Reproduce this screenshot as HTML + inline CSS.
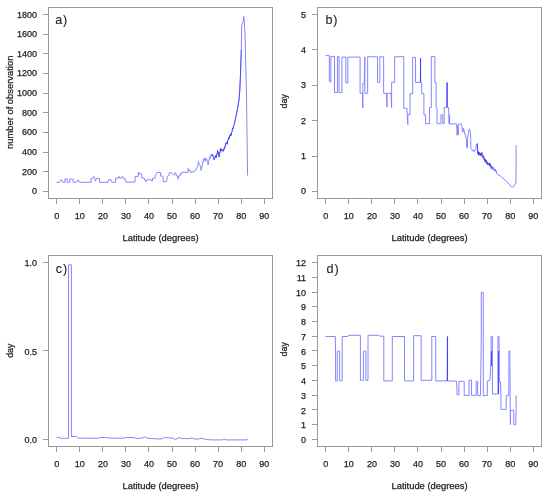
<!DOCTYPE html><html><head><meta charset="utf-8"><style>html,body{margin:0;padding:0;background:#fff;}svg{display:block;}text{font-family:'Liberation Sans', Arial, Helvetica, sans-serif;fill:#1e1e1e;stroke:#1e1e1e;stroke-width:0.25px;}</style></head><body>
<svg width="550" height="494" viewBox="0 0 550 494">
<rect width="550" height="494" fill="#fff"/>
<g><path d="M56.5 182.3 L59.5 182.3 L61.6 179.5 L62.7 182.3 L64.9 182.3 L64.9 179 L67.1 179 L67.1 182.3 L69.8 182.3 L69.8 179 L73.1 179 L73.1 182.3 L76.6 182.3 L78.3 179.8 L79.6 182.3 L91.1 182.3 L91.1 178.4 L92.7 178.4 L93.8 176.5 L94.6 178.4 L95.5 181.1 L96.3 178.4 L99.55 178.4 L99.55 182.3 L108 182.3 L108.8 179.5 L110.7 179.5 L111.8 182.3 L115.65 182.3 L115.65 178 L118.6 178 L119 176.5 L119.5 178 L122 178 L122.5 176.4 L123 178 L124.6 178 L124.8 180 L125.7 180 L126 182.3 L135.05 182 L135.05 176.4 L138.35 176.4 L138.35 172.5 L139.5 172.5 L139.8 174.1 L141.8 174.1 L141.8 178 L144.1 178 L144.4 179 L145.4 181 L146 182 L146.7 179.7 L150.9 179.7 L151.6 181 L152.45 181 L152.45 178.4 L155.05 178.4 L155.05 175.7 L156.2 174.4 L157.2 172.5 L160.6 172.5 L160.6 176.1 L162.7 176.1 L163.2 177 L163.2 181.8 L166 181.8 L167.1 179.2 L167.1 176.6 L169.25 175.3 L169.25 172.7 L171.5 172.7 L172.5 174 L173.8 175.3 L175.1 172.7 L176.1 173.3 L176.1 175.9 L177.95 175.9 L177.95 179.2 L178.7 175.9 L180.35 175.9 L180.35 173.3 L181.3 174 L182 172.3 L187.2 172.3 L188.15 172.3 L188.15 168.4 L189.2 171 L189.9 170.1 L190.5 172.3 L192.8 172.3 L193.8 170.7 L194.8 171.4 L195.4 170.7 L196.7 168.1 L197.7 166.8 L198.4 161.5 L199.3 164.8 L200 165.5 L200.6 166.77 L201.1 170.52 L201.6 167.22 L202.1 167.13 L202.6 162.25 L203.1 162.72 L203.6 159.14 L204.1 159.39 L204.6 157.76 L205.1 161.16 L205.6 158.82 L206.1 160.01 L206.6 158.75 L207.1 161.61 L207.6 161.36 L208.1 164.87 L208.6 161.62 L209.1 160.01 L209.6 157.17 L210.1 158.44 L210.6 155.22 L211.1 156.38 L211.6 154.1 L212.1 155.36 L212.6 154.37 L213.1 156.86 L213.6 156.96 L214.1 159.73 L214.6 157.85 L215.1 157.53 L215.6 155.52 L216.1 157.75 L216.6 154.7 L217.1 154.76 L217.6 150.45 L218.1 152.94 L218.6 152.78 L219.1 156.99 L219.6 152.55 L220.1 152.54 L220.6 148.3 L221.1 151.1 L221.6 149.51 L222.1 150.18 L222.6 149.67 L223.1 151.36 L223.6 149.23 L224.1 149.64 L224.6 147.02 L225.1 147.42 L225.6 143.61 L226.1 143.17 L226.6 141.98 L227.1 144.26 L227.6 140.49 L228.1 140.27 L228.6 137.68 L229.1 138.68 L229.6 135.6 L230.1 136.19 L230.6 133.76 L231.1 135.44 L231.6 132.14 L232.1 131.57 L232.6 127.98 L233.1 128.52 L233.6 125.77 L234.1 125.17 L234.6 122.6 L236.2 115.5 L237.6 108.4 L239 99.9 L239.8 90 L240.5 74.2 L241.3 50 L241.6 26.2 L242.5 23 L243.3 21.3 L243.7 16.5 L244.1 18.9 L244.5 26.2 L245 34.3 L245.4 50 L246.4 90 L247.6 175.6" fill="none" stroke="#8585ff" stroke-width="1" stroke-linejoin="round"/><path d="M212.1 155.36 L212.6 154.37 L213.1 156.86 L213.6 156.96 L214.1 159.73 L214.6 157.85 L215.1 157.53 L215.6 155.52 L216.1 157.75 L216.6 154.7 L217.1 154.76 L217.6 150.45 L218.1 152.94 L218.6 152.78 L219.1 156.99 L219.6 152.55 L220.1 152.54 L220.6 148.3 L221.1 151.1 L221.6 149.51 L222.1 150.18 L222.6 149.67 L223.1 151.36 L223.6 149.23 L224.1 149.64 L224.6 147.02 L225.1 147.42 L225.6 143.61 L226.1 143.17 L226.6 141.98 L227.1 144.26 L227.6 140.49 L228.1 140.27 L228.6 137.68 L229.1 138.68 L229.6 135.6 L230.1 136.19 L230.6 133.76 L231.1 135.44 L231.6 132.14 L232.1 131.57 L232.6 127.98 L233.1 128.52 L233.6 125.77 L234.1 125.17 L234.6 122.6 L236.2 115.5 L237.6 108.4 L239 99.9 L239.8 90 L240.5 74.2 L241.3 50" fill="none" stroke="#3c3cff" stroke-width="0.8" stroke-linejoin="round"/><rect x="48.5" y="7.5" width="224" height="191" fill="none" stroke="#999999" stroke-width="1"/><path d="M56.5 199 V204 M79.5 199 V204 M102.5 199 V204 M125.5 199 V204 M148.5 199 V204 M172.5 199 V204 M195.5 199 V204 M218.5 199 V204 M241.5 199 V204 M264.5 199 V204 M43 191.5 H48 M43 171.5 H48 M43 152.5 H48 M43 132.5 H48 M43 112.5 H48 M43 93.5 H48 M43 73.5 H48 M43 53.5 H48 M43 34.5 H48 M43 14.5 H48" stroke="#999999" stroke-width="1" fill="none"/><text x="56.8" y="218.5" font-size="9" text-anchor="middle">0</text><text x="79.8" y="218.5" font-size="9" text-anchor="middle">10</text><text x="102.9" y="218.5" font-size="9" text-anchor="middle">20</text><text x="125.9" y="218.5" font-size="9" text-anchor="middle">30</text><text x="149.0" y="218.5" font-size="9" text-anchor="middle">40</text><text x="172.0" y="218.5" font-size="9" text-anchor="middle">50</text><text x="195.1" y="218.5" font-size="9" text-anchor="middle">60</text><text x="218.1" y="218.5" font-size="9" text-anchor="middle">70</text><text x="241.2" y="218.5" font-size="9" text-anchor="middle">80</text><text x="264.2" y="218.5" font-size="9" text-anchor="middle">90</text><text x="37.0" y="194.3" font-size="9" text-anchor="end">0</text><text x="37.0" y="174.7" font-size="9" text-anchor="end">200</text><text x="37.0" y="155.0" font-size="9" text-anchor="end">400</text><text x="37.0" y="135.4" font-size="9" text-anchor="end">600</text><text x="37.0" y="115.7" font-size="9" text-anchor="end">800</text><text x="37.0" y="96.1" font-size="9" text-anchor="end">1000</text><text x="37.0" y="76.4" font-size="9" text-anchor="end">1200</text><text x="37.0" y="56.8" font-size="9" text-anchor="end">1400</text><text x="37.0" y="37.1" font-size="9" text-anchor="end">1600</text><text x="37.0" y="17.5" font-size="9" text-anchor="end">1800</text><text x="160.5" y="241.4" font-size="9.4" text-anchor="middle">Latitude (degrees)</text><text transform="translate(13.3 102.3) rotate(-90)" font-size="9.4" text-anchor="middle">number of observation</text><text x="55.2" y="23.6" font-size="12.6" letter-spacing="0.9" style="stroke-width:0.12px">a)</text></g>
<g><path d="M325.5 55.6 L329.35 55.6 L329.35 81.4 L330.85 82.4 L330.85 56.6 L334.55 56.6 L334.55 92.5 L337.45 92.5 L337.45 56.6 L339.05 56.6 L339.05 92.5 L341.95 92.5 L341.95 57.1 L345.85 57.1 L345.85 82.9 L347.85 82.9 L347.85 57.1 L360.1 57.1 L360.1 93.3 L362.5 93.3 L362.85 107.9 L362.85 83.3 L364.3 83.3 L364.85 56.8 L364.85 93.3 L367.65 93.3 L367.65 56.8 L377.5 56.8 L377.5 82.3 L379.85 82.3 L379.85 56.8 L383.65 56.8 L383.65 93.3 L386.45 93.3 L387.12 107 L387.12 93.3 L390.95 93.3 L391.62 107.9 L391.62 82.3 L394.65 82.3 L394.65 56.8 L403.8 56.6 L403.8 108.3 L406.9 108.3 L407.25 114.8 L407.82 124.5 L407.82 114.8 L410 114.8 L410 93.7 L412.65 93.7 L412.65 57.3 L415.55 57.3 L415.55 82.4 L420.35 82.4 L420.58 58.1 L420.58 82.4 L421.7 82.4 L421.7 93.7 L423.9 93.7 L423.9 114.8 L425.6 114.8 L425.6 123.7 L429.55 123.7 L429.55 107.5 L431.3 107.5 L431.3 56.6 L434.85 56.6 L434.85 82.4 L436.1 82.4 L436.1 107.5 L437 107.5 L437 123.7 L440.9 123.7 L440.9 114.8 L442.8 114.8 L442.8 123.7 L444.15 123.7 L444.15 107.5 L446.95 107.5 L447.17 82.4 L447.17 107.5 L448.6 107.5 L449.05 123.7 L449.62 114.8 L449.62 123.7 L449.9 123.9 L456.65 123.9 L457.17 135.3 L457.69 125.3 L458.19 135 L458.19 125 L459.1 123.9 L461.3 123.9 L462 126.8 L462.7 132.4 L463.5 128.4 L464.8 133.8 L466.55 139.5 L466.55 146.6 L467.45 148.3 L467.45 138.3 L469.2 129.1 L470.25 131.3 L470.77 139.8 L470.77 148.3 L472.8 151.1 L473.5 149.7 L474.2 151.8 L475.6 149.7 L476.3 144.7 L477.35 143.66 L477.8 153.65 L478.25 151.73 L478.7 155.29 L479.15 152.19 L479.6 155.03 L480.05 153.22 L480.5 155.55 L480.95 152.97 L481.4 155.18 L481.85 152.57 L482.3 156.69 L482.75 155.25 L483.2 158.14 L483.65 156.49 L484.1 159.55 L484.55 158.61 L485 161.56 L485.45 159.23 L485.9 162.37 L486.35 160.15 L486.8 163.53 L487.25 162.17 L487.7 164.74 L488.15 163.04 L488.6 164.44 L489.05 163.14 L489.5 165.87 L489.95 163.26 L490.4 166.39 L490.85 165.64 L491.3 168.58 L491.75 166.04 L492.2 168.75 L492.65 167.31 L493.1 169.89 L493.55 167.47 L494 170.61 L494.45 168.88 L494.9 171.01 L495.35 169.16 L495.8 171.88 L496.25 170.59 L496.7 173.8 L500.5 176.1 L505.8 180.7 L509.1 183.9 L511.1 186.6 L512.4 187.2 L514.3 185.9 L515.9 182.6 L516.1 169.5 L516.1 145.1" fill="none" stroke="#8585ff" stroke-width="1" stroke-linejoin="round"/><path d="M476.3 144.7 L477.35 143.66 L477.8 153.65 L478.25 151.73 L478.7 155.29 L479.15 152.19 L479.6 155.03 L480.05 153.22 L480.5 155.55 L480.95 152.97 L481.4 155.18 L481.85 152.57 L482.3 156.69 L482.75 155.25 L483.2 158.14 L483.65 156.49 L484.1 159.55 L484.55 158.61 L485 161.56 L485.45 159.23 L485.9 162.37 L486.35 160.15 L486.8 163.53 L487.25 162.17 L487.7 164.74 L488.15 163.04 L488.6 164.44 L489.05 163.14 L489.5 165.87 L489.95 163.26 L490.4 166.39 L490.85 165.64 L491.3 168.58 L491.75 166.04" fill="none" stroke="#3c3cff" stroke-width="0.8" stroke-linejoin="round"/><path d="M420.5 58.5 V82 M447.1 82.8 V107" fill="none" stroke="#3c3cff" stroke-width="1"/><rect x="317.5" y="7.5" width="224" height="191" fill="none" stroke="#999999" stroke-width="1"/><path d="M325.5 199 V204 M348.5 199 V204 M371.5 199 V204 M394.5 199 V204 M417.5 199 V204 M441.5 199 V204 M464.5 199 V204 M487.5 199 V204 M510.5 199 V204 M533.5 199 V204 M312 191.5 H317 M312 156.5 H317 M312 120.5 H317 M312 85.5 H317 M312 49.5 H317 M312 14.5 H317" stroke="#999999" stroke-width="1" fill="none"/><text x="325.8" y="218.5" font-size="9" text-anchor="middle">0</text><text x="348.8" y="218.5" font-size="9" text-anchor="middle">10</text><text x="371.9" y="218.5" font-size="9" text-anchor="middle">20</text><text x="394.9" y="218.5" font-size="9" text-anchor="middle">30</text><text x="418.0" y="218.5" font-size="9" text-anchor="middle">40</text><text x="441.0" y="218.5" font-size="9" text-anchor="middle">50</text><text x="464.1" y="218.5" font-size="9" text-anchor="middle">60</text><text x="487.1" y="218.5" font-size="9" text-anchor="middle">70</text><text x="510.2" y="218.5" font-size="9" text-anchor="middle">80</text><text x="533.2" y="218.5" font-size="9" text-anchor="middle">90</text><text x="306.0" y="194.3" font-size="9" text-anchor="end">0</text><text x="306.0" y="159.0" font-size="9" text-anchor="end">1</text><text x="306.0" y="123.6" font-size="9" text-anchor="end">2</text><text x="306.0" y="88.2" font-size="9" text-anchor="end">3</text><text x="306.0" y="52.8" font-size="9" text-anchor="end">4</text><text x="306.0" y="17.5" font-size="9" text-anchor="end">5</text><text x="429.5" y="241.4" font-size="9.4" text-anchor="middle">Latitude (degrees)</text><text transform="translate(286.5 101.3) rotate(-90)" font-size="8.8" text-anchor="middle">day</text><text x="325.4" y="23.5" font-size="12.6" letter-spacing="0.9" style="stroke-width:0.12px">b)</text></g>
<g><path d="M56.5 437.5 L59.8 437.5 L60.9 438.3 L68.55 438.3 L68.55 264.8 L71.4 264.8 L71.4 436.5 L76.2 436.5 L77.8 438.1 L98 438.3 L99.6 437.5 L106.7 437.5 L109.5 438.1 L124.1 438.2 L125.5 437.5 L134.3 437.5 L135.7 438.5 L141.2 438.2 L144.6 436.9 L145.9 437.3 L147.3 438.2 L156.8 438.9 L162.3 438.9 L164.3 437.5 L173.2 438.2 L175.3 439.6 L179.1 437.5 L181.8 438.6 L190 438.6 L192.1 437.8 L194.1 438.9 L198.2 439.2 L200.9 438.2 L203.6 438.9 L207.7 439.6 L211.2 439.9 L222.7 439.9 L224.1 439.2 L226.2 439.9 L247.3 439.9 L247.6 438.9" fill="none" stroke="#8585ff" stroke-width="1" stroke-linejoin="round"/><rect x="48.5" y="255.5" width="224" height="191" fill="none" stroke="#999999" stroke-width="1"/><path d="M56.5 447 V452 M79.5 447 V452 M102.5 447 V452 M125.5 447 V452 M148.5 447 V452 M172.5 447 V452 M195.5 447 V452 M218.5 447 V452 M241.5 447 V452 M264.5 447 V452 M43 439.5 H48 M43 350.5 H48 M43 262.5 H48" stroke="#999999" stroke-width="1" fill="none"/><text x="56.8" y="466.5" font-size="9" text-anchor="middle">0</text><text x="79.8" y="466.5" font-size="9" text-anchor="middle">10</text><text x="102.9" y="466.5" font-size="9" text-anchor="middle">20</text><text x="125.9" y="466.5" font-size="9" text-anchor="middle">30</text><text x="149.0" y="466.5" font-size="9" text-anchor="middle">40</text><text x="172.0" y="466.5" font-size="9" text-anchor="middle">50</text><text x="195.1" y="466.5" font-size="9" text-anchor="middle">60</text><text x="218.1" y="466.5" font-size="9" text-anchor="middle">70</text><text x="241.2" y="466.5" font-size="9" text-anchor="middle">80</text><text x="264.2" y="466.5" font-size="9" text-anchor="middle">90</text><text x="37.0" y="442.9" font-size="9" text-anchor="end">0.0</text><text x="37.0" y="354.5" font-size="9" text-anchor="end">0.5</text><text x="37.0" y="266.1" font-size="9" text-anchor="end">1.0</text><text x="160.5" y="489.4" font-size="9.4" text-anchor="middle">Latitude (degrees)</text><text transform="translate(13.3 350.7) rotate(-90)" font-size="8.8" text-anchor="middle">day</text><text x="55.7" y="272.7" font-size="12.6" letter-spacing="0.9" style="stroke-width:0.12px">c)</text></g>
<g><path d="M325.5 336.5 L335.35 336.5 L335.58 359 L335.58 380.9 L337.3 380.9 L337.3 351.1 L339.7 351.1 L339.7 380.9 L342.2 380.9 L342.2 336.5 L347.9 336.5 L348.5 335.3 L360.4 335.3 L360.4 380.3 L363.4 380.3 L363.4 351.1 L365.85 351.1 L365.85 380.3 L368 380.3 L368 335.3 L378.3 335.3 L380 336.2 L383.8 336.2 L383.8 380.9 L392.3 380.9 L392.3 336.5 L404.5 336.5 L404.5 380.9 L413.6 380.9 L413.6 335.7 L421.15 335.7 L421.15 380.3 L431.8 380.3 L431.8 336.5 L435.8 336.5 L435.8 380.9 L447.2 380.9 L447.55 336.5 L447.55 380.9 L456.35 381.1 L457.02 388.3 L457.02 394.9 L458.95 394.9 L458.95 381.3 L464.2 381.3 L464.2 395.4 L469.05 395.4 L469.05 380.2 L471.55 380.2 L471.55 395.4 L476.15 395.4 L476.15 381.3 L477.65 381.3 L477.65 395.4 L480.45 395.6 L480.82 372.9 L481.26 335.7 L481.26 292.3 L483.2 292.3 L483.3 372.9 L483.3 395.6 L487.35 395.6 L487.35 381 L490 380.2 L490.6 369.7 L491.05 351 L491.05 336.5 L492.4 336.5 L492.45 351 L492.45 394 L497.95 394 L497.95 336.5 L499.05 336.5 L499.18 351 L499.18 381.8 L500.5 381.8 L500.95 395.6 L500.95 409.4 L506.2 409.4 L506.2 395.6 L508.6 395.6 L508.95 381.8 L508.95 351 L509.85 351 L510.23 409 L510.42 424.6 L510.42 410.4 L513.75 410.4 L513.75 424.6 L515.75 424.6 L516.12 410.4 L516.12 395.5" fill="none" stroke="#8585ff" stroke-width="1" stroke-linejoin="round"/><path d="M491.6 351 V366 M498.6 351 V394 M447.4 336.5 V381" fill="none" stroke="#3c3cff" stroke-width="1"/><rect x="317.5" y="255.5" width="224" height="191" fill="none" stroke="#999999" stroke-width="1"/><path d="M325.5 447 V452 M348.5 447 V452 M371.5 447 V452 M394.5 447 V452 M417.5 447 V452 M441.5 447 V452 M464.5 447 V452 M487.5 447 V452 M510.5 447 V452 M533.5 447 V452 M312 439.5 H317 M312 424.5 H317 M312 409.5 H317 M312 395.5 H317 M312 380.5 H317 M312 365.5 H317 M312 350.5 H317 M312 336.5 H317 M312 321.5 H317 M312 306.5 H317 M312 292.5 H317 M312 277.5 H317 M312 262.5 H317" stroke="#999999" stroke-width="1" fill="none"/><text x="325.8" y="466.5" font-size="9" text-anchor="middle">0</text><text x="348.8" y="466.5" font-size="9" text-anchor="middle">10</text><text x="371.9" y="466.5" font-size="9" text-anchor="middle">20</text><text x="394.9" y="466.5" font-size="9" text-anchor="middle">30</text><text x="418.0" y="466.5" font-size="9" text-anchor="middle">40</text><text x="441.0" y="466.5" font-size="9" text-anchor="middle">50</text><text x="464.1" y="466.5" font-size="9" text-anchor="middle">60</text><text x="487.1" y="466.5" font-size="9" text-anchor="middle">70</text><text x="510.2" y="466.5" font-size="9" text-anchor="middle">80</text><text x="533.2" y="466.5" font-size="9" text-anchor="middle">90</text><text x="306.0" y="442.9" font-size="9" text-anchor="end">0</text><text x="306.0" y="428.2" font-size="9" text-anchor="end">1</text><text x="306.0" y="413.5" font-size="9" text-anchor="end">2</text><text x="306.0" y="398.7" font-size="9" text-anchor="end">3</text><text x="306.0" y="384.0" font-size="9" text-anchor="end">4</text><text x="306.0" y="369.2" font-size="9" text-anchor="end">5</text><text x="306.0" y="354.5" font-size="9" text-anchor="end">6</text><text x="306.0" y="339.8" font-size="9" text-anchor="end">7</text><text x="306.0" y="325.0" font-size="9" text-anchor="end">8</text><text x="306.0" y="310.3" font-size="9" text-anchor="end">9</text><text x="306.0" y="295.5" font-size="9" text-anchor="end">10</text><text x="306.0" y="280.8" font-size="9" text-anchor="end">11</text><text x="306.0" y="266.1" font-size="9" text-anchor="end">12</text><text x="429.5" y="489.4" font-size="9.4" text-anchor="middle">Latitude (degrees)</text><text transform="translate(286.5 349.3) rotate(-90)" font-size="8.8" text-anchor="middle">day</text><text x="326.6" y="272.8" font-size="12.6" letter-spacing="0.9" style="stroke-width:0.12px">d)</text></g>
</svg></body></html>
